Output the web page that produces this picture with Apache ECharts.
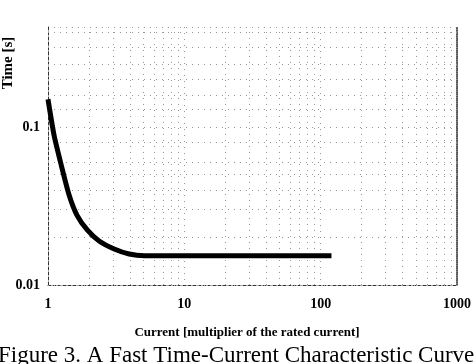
<!DOCTYPE html>
<html>
<head>
<meta charset="utf-8">
<script src="https://cdn.jsdelivr.net/npm/echarts@6/dist/echarts.min.js"></script>
<style>html,body{margin:0;padding:0;background:#fff;}#c{width:474px;height:364px;}</style>
</head>
<body>
<div id="c"></div>
<script>
// Data
var currentMultiplier = [1, 1.107, 1.25, 1.43, 1.63, 1.94, 2.37, 3.06, 3.94, 5.08, 120];
var tripTime = [0.150, 0.089, 0.0575, 0.037, 0.0277, 0.0223, 0.019, 0.0169, 0.0157, 0.0153, 0.0153];
var xMinorGrid = [2,3,4,5,6,7,8,9,20,30,40,50,60,70,80,90,200,300,400,500,600,700,800,900];
var yMinorGrid = [0.0126, 0.0158, 0.02, 0.0251, 0.0316, 0.0398, 0.0501, 0.0631, 0.0794, 0.126, 0.158, 0.2, 0.251, 0.316, 0.398];
var yTickLabels = ['0.01', '0.1'];
var xTickLabels = ['1', '10', '100', '1000'];

var serif = "'Liberation Serif', 'DejaVu Serif', serif";
var pts = currentMultiplier.map(function (x, i) { return [x, tripTime[i]]; });
var gridStyle = {color: '#999', type: [1, 5], width: 1};

var chart = echarts.init(document.getElementById('c'), null, {renderer: 'canvas'});
chart.setOption({
  animation: false,
  backgroundColor: '#fff',
  grid: {left: 48, right: 16, top: 27, bottom: 79, containLabel: false},
  xAxis: {
    type: 'log', logBase: 10, min: 1, max: 1000,
    axisLine: {show: true, lineStyle: {color: '#333', type: [3, 2], width: 1}},
    axisTick: {show: false},
    splitLine: {show: true, lineStyle: gridStyle},
    axisLabel: {
      margin: 12, color: '#000', fontFamily: serif, fontWeight: 'bold', fontSize: 14,
      formatter: function (v) { var s = String(Math.round(v)); return xTickLabels.indexOf(s) >= 0 ? s : ''; }
    }
  },
  yAxis: [{
    type: 'log', logBase: 10, min: 0.01, max: 0.43,
    axisLine: {show: true, lineStyle: {color: '#333', type: [3, 2], width: 1}},
    axisTick: {show: false},
    splitLine: {show: true, lineStyle: gridStyle},
    axisLabel: {
      margin: 8, color: '#000', fontFamily: serif, fontWeight: 'bold', fontSize: 14,
      formatter: function (v) {
        var s = v < 0.05 ? '0.01' : (v < 0.2 ? '0.1' : '');
        return (Math.abs(Math.log10(v) - Math.round(Math.log10(v))) < 1e-6 && yTickLabels.indexOf(s) >= 0) ? s : '';
      }
    }
  }, {
    type: 'log', logBase: 10, min: 0.01, max: 0.43, position: 'right',
    axisLine: {show: true, lineStyle: {color: '#222', type: [1, 1], width: 1.5}},
    axisTick: {show: false}, axisLabel: {show: false}, splitLine: {show: false}
  }],
  series: [{
    type: 'line',
    data: pts,
    showSymbol: false,
    smooth: 0.2,
    z: 5,
    lineStyle: {color: '#000', width: 5},
    markLine: {
      silent: true, symbol: 'none', label: {show: false},
      lineStyle: gridStyle,
      data: xMinorGrid.map(function (v) { return {xAxis: v}; })
        .concat(yMinorGrid.map(function (v) { return {yAxis: v}; }))
    }
  }],
  graphic: [
    {type: 'text', x: 8, y: 63, rotation: Math.PI / 2,
     style: {text: 'Time [s]', font: 'bold 15px ' + serif, fill: '#000', align: 'center', verticalAlign: 'middle'}},
    {type: 'text', x: 247, y: 333,
     style: {text: 'Current [multiplier of the rated current]', font: 'bold 13px ' + serif, fill: '#000', align: 'center', verticalAlign: 'middle'}},
    {type: 'text', x: -2, y: 344,
     style: {text: 'Figure 3. A Fast Time-Current Characteristic Curve', font: '23px ' + serif, fill: '#000', align: 'left', verticalAlign: 'top'}}
  ]
});
</script>
</body>
</html>
